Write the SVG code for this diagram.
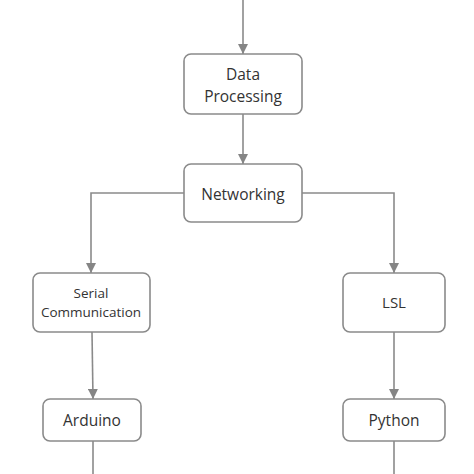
<svg xmlns="http://www.w3.org/2000/svg" width="474" height="474" viewBox="0 0 474 474">
<defs>
<marker id="arr" viewBox="0 0 10 10" refX="10" refY="5" markerWidth="10" markerHeight="10" markerUnits="userSpaceOnUse" orient="auto">
<path d="M0,0 L10,5 L0,10 Z" fill="#858585"/>
</marker>
<style>
.box{fill:#fff;stroke:#8a8a8a;stroke-width:1.6}
.edge{fill:none;stroke:#8a8a8a;stroke-width:1.6;marker-end:url(#arr)}
.line{fill:none;stroke:#8a8a8a;stroke-width:1.6}
text{font-family:"Open Sans","Noto Sans",sans-serif;fill:#333;text-anchor:middle}
.t15{font-size:15.5px}
.t13{font-size:13.5px}
.t14{font-size:15px}
</style>
</defs>
<rect width="474" height="474" fill="#fff"/>
<g id="connectors">
<path class="edge" d="M243,0 V54"/>
<path class="edge" d="M243,114 V164"/>
<path class="edge" d="M184,193 H91 V273"/>
<path class="edge" d="M302,193 H394 V273"/>
<path class="edge" d="M92,332 L93,399"/>
<path class="edge" d="M394,332 V399"/>
<path class="line" d="M93,441 V474"/>
<path class="line" d="M394,441 V474"/>
</g>
<g id="data-processing">
<rect class="box" x="184" y="54" width="118" height="60" rx="7"/>
<text class="t15" x="243" y="80">Data</text>
<text class="t15" x="243" y="102">Processing</text>
</g>
<g id="networking">
<rect class="box" x="184" y="164" width="118" height="58" rx="7"/>
<text class="t15" x="243" y="200">Networking</text>
</g>
<g id="serial-communication">
<rect class="box" x="33" y="273" width="117" height="59" rx="7"/>
<text class="t13" x="91" y="298">Serial</text>
<text class="t13" x="91" y="317">Communication</text>
</g>
<g id="lsl">
<rect class="box" x="343" y="273" width="102" height="59" rx="7"/>
<text class="t14" x="394" y="308">LSL</text>
</g>
<g id="arduino">
<rect class="box" x="43" y="399" width="98" height="42" rx="7"/>
<text class="t15" x="92" y="426">Arduino</text>
</g>
<g id="python">
<rect class="box" x="343" y="399" width="102" height="42" rx="7"/>
<text class="t15" x="394" y="426">Python</text>
</g>
</svg>
